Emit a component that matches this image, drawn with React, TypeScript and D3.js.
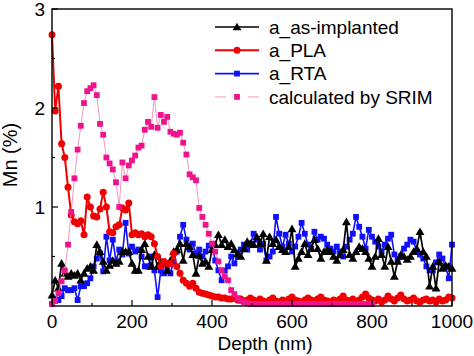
import React from 'react';
import * as d3 from 'd3';

const depths = [
  0, 8, 16, 24, 32, 40, 48, 56, 64, 72,
  80, 88, 96, 104, 112, 120, 128, 136, 144, 152,
  160, 168, 176, 184, 192, 200, 208, 216, 224, 232,
  240, 248, 256, 264, 272, 280, 288, 296, 304, 312,
  320, 328, 336, 344, 352, 360, 368, 376, 384, 392,
  400, 408, 416, 424, 432, 440, 448, 456, 464, 472,
  480, 488, 496, 504, 512, 520, 528, 536, 544, 552,
  560, 568, 576, 584, 592, 600, 608, 616, 624, 632,
  640, 648, 656, 664, 672, 680, 688, 696, 704, 712,
  720, 728, 736, 744, 752, 760, 768, 776, 784, 792,
  800, 808, 816, 824, 832, 840, 848, 856, 864, 872,
  880, 888, 896, 904, 912, 920, 928, 936, 944, 952,
  960, 968, 976, 984, 992, 1000,
];

const asImplanted = [
  0.11, 0.26, 0.18, 0.43, 0.33, 0.30, 0.33, 0.31, 0.33, 0.26,
  0.33, 0.38, 0.40, 0.36, 0.62, 0.55, 0.45, 0.36, 0.41, 0.46,
  0.43, 0.45, 0.55, 0.55, 0.55, 0.43, 0.36, 0.36, 0.57, 0.63,
  0.50, 0.40, 0.52, 0.40, 0.45, 0.43, 0.36, 0.46, 0.55, 0.57,
  0.63, 0.46, 0.63, 0.60, 0.52, 0.33, 0.51, 0.43, 0.45, 0.40,
  0.57, 0.62, 0.72, 0.62, 0.67, 0.60, 0.63, 0.57, 0.53, 0.50,
  0.58, 0.65, 0.63, 0.62, 0.70, 0.63, 0.73, 0.46, 0.70, 0.63,
  0.67, 0.60, 0.57, 0.55, 0.60, 0.78, 0.40, 0.48, 0.55, 0.63,
  0.52, 0.58, 0.67, 0.58, 0.48, 0.55, 0.57, 0.55, 0.50, 0.46,
  0.52, 0.57, 0.85, 0.52, 0.48, 0.55, 0.60, 0.58, 0.55, 0.48,
  0.40, 0.50, 0.68, 0.52, 0.40, 0.60, 0.45, 0.30, 0.45, 0.52,
  0.50, 0.47, 0.50, 0.55, 0.58, 0.75, 0.55, 0.50, 0.20, 0.40,
  0.18, 0.45, 0.38, 0.41, 0.40, 0.38,
];

const pla = [
  2.74, 1.97, 2.22, 1.64, 1.50, 1.20, 0.92, 0.85, 0.83, 0.86,
  0.72, 1.10, 1.00, 0.91, 0.90, 0.98, 1.15, 1.00, 0.75, 0.74,
  0.80, 0.82, 0.99, 0.97, 1.04, 0.72, 0.74, 0.72, 0.73, 0.70,
  0.72, 0.70, 0.63, 0.50, 0.40, 0.45, 0.43, 0.43, 0.53, 0.40,
  0.33, 0.26, 0.23, 0.20, 0.23, 0.18, 0.14, 0.13, 0.12, 0.11,
  0.10, 0.09, 0.09, 0.08, 0.08, 0.07, 0.07, 0.08, 0.06, 0.07,
  0.05, 0.06, 0.08, 0.06, 0.05, 0.07, 0.05, 0.04, 0.06, 0.08,
  0.05, 0.04, 0.06, 0.05, 0.07, 0.09, 0.06, 0.05, 0.04, 0.06,
  0.08, 0.06, 0.05, 0.07, 0.09, 0.06, 0.05, 0.04, 0.06, 0.05,
  0.07, 0.10, 0.06, 0.05, 0.07, 0.04, 0.06, 0.09, 0.12, 0.08,
  0.06, 0.05, 0.07, 0.04, 0.06, 0.10, 0.07, 0.05, 0.08, 0.11,
  0.07, 0.05, 0.06, 0.08, 0.05, 0.04, 0.06, 0.07, 0.05, 0.06,
  0.04, 0.07, 0.05, 0.06, 0.09, 0.08,
];

const rta = [
  0.02, 0.07, 0.06, 0.10, 0.18, 0.16, 0.16, 0.18, 0.06, 0.20,
  0.20, 0.23, 0.28, 0.40, 0.48, 0.53, 0.35, 0.70, 0.46, 0.67,
  0.45, 0.57, 0.52, 0.84, 0.53, 0.60, 0.55, 0.57, 0.50, 0.40,
  0.40, 0.50, 0.36, 0.09, 0.36, 0.33, 0.36, 0.33, 0.45, 0.55,
  0.70, 0.82, 0.67, 0.57, 0.63, 0.53, 0.57, 0.50, 0.55, 0.61,
  0.62, 0.46, 0.36, 0.26, 0.36, 0.40, 0.50, 0.43, 0.50, 0.57,
  0.62, 0.57, 0.63, 0.73, 0.67, 0.57, 0.63, 0.46, 0.50, 0.55,
  0.90, 0.73, 0.60, 0.72, 0.63, 0.55, 0.60, 0.70, 0.84, 0.73,
  0.62, 0.58, 0.75, 0.67, 0.70, 0.68, 0.62, 0.58, 0.55, 0.60,
  0.55, 0.50, 0.60, 0.67, 0.73, 0.90, 0.80, 0.70, 0.58, 0.77,
  0.70, 0.65, 0.60, 0.55, 0.62, 0.68, 0.72, 0.52, 0.46, 0.50,
  0.58, 0.62, 0.67, 0.65, 0.55, 0.52, 0.48, 0.40, 0.36, 0.36,
  0.44, 0.52, 0.48, 0.40, 0.28, 0.62,
];

const srim = [
  0.02, 0.05, 0.13, 0.25, 0.36, 0.62, 0.95, 1.29, 1.58, 1.82,
  2.05, 2.17, 2.20, 2.23, 2.13, 1.84, 1.73, 1.50, 1.44, 1.38,
  1.25, 1.00, 1.45, 1.29, 1.42, 1.47, 1.52, 1.60, 1.62, 1.78,
  1.86, 1.81, 2.11, 1.80, 1.93, 1.86, 1.91, 1.76, 1.74, 1.73,
  1.75, 1.65, 1.53, 1.33, 1.30, 1.27, 0.99, 0.90, 0.82, 0.73,
  0.63, 0.55, 0.45, 0.36, 0.30, 0.26, 0.16, 0.12, 0.08, 0.05,
  0.04, 0.03, 0.02, 0.02, 0.02, 0.02, 0.02, 0.02, 0.02, 0.02,
  0.02, 0.02, 0.02, 0.02, 0.02, 0.02, 0.02, 0.02, 0.02, 0.02,
  0.02, 0.02, 0.02, 0.02, 0.02, 0.02, 0.02, 0.02, 0.02, 0.02,
  0.02, 0.02, 0.02, 0.02, 0.02, 0.02, 0.02, 0.02, 0.02, 0.02,
  0.02,
];

const xTicks = [0, 200, 400, 600, 800, 1000];
const xMinorTicks = [100, 300, 500, 700, 900];
const yTicks = [1, 2, 3];
const yMinorTicks = [0.5, 1.5, 2.5];
const seriesNames = ['a_as-implanted', 'a_PLA', 'a_RTA', 'calculated by SRIM'];

const FONT = "Arial, 'Liberation Sans', sans-serif";

type Pt = { d: number; v: number };
const toPts = (vals: number[]): Pt[] =>
  vals.map((v, i) => ({ d: depths[i], v })).filter((p) => p.d !== undefined);

function Marker({ kind, cx, cy }: { kind: string; cx: number; cy: number }) {
  if (kind === 'tri') {
    const p = d3.symbol().type(d3.symbolTriangle).size(34)();
    return <path d={p as string} transform={`translate(${cx},${cy + 0.8})`} fill="#000" />;
  }
  if (kind === 'circ') return <circle cx={cx} cy={cy} r={3.5} fill="#f00000" />;
  if (kind === 'sqb') return <rect x={cx - 2.9} y={cy - 2.9} width={5.8} height={5.8} fill="#1010ff" />;
  return <rect x={cx - 2.9} y={cy - 2.9} width={5.8} height={5.8} fill="#f0148c" />;
}

export default function App() {
  const L = 52, R = 452, T = 9, B = 306;
  const x = d3.scaleLinear().domain([0, 1000]).range([L, R]);
  const y = d3.scaleLinear().domain([0, 3]).range([B, T]);
  const line = d3.line<Pt>().x((p) => x(p.d)).y((p) => y(p.v));

  const series = [
    { name: seriesNames[2], pts: toPts(rta), color: '#1010ff', w: 1.6, kind: 'sqb' },
    { name: seriesNames[0], pts: toPts(asImplanted), color: '#000', w: 1.7, kind: 'tri' },
    { name: seriesNames[1], pts: toPts(pla), color: '#f00000', w: 2, kind: 'circ' },
    { name: seriesNames[3], pts: toPts(srim), color: '#f38ab8', w: 0.9, kind: 'sqp' },
  ];

  const legend = [
    { name: seriesNames[0], color: '#000', kind: 'tri', w: 1.6 },
    { name: seriesNames[1], color: '#f00000', kind: 'circ', w: 2 },
    { name: seriesNames[2], color: '#1010ff', kind: 'sqb', w: 1.6 },
    { name: seriesNames[3], color: '#f6a8c8', kind: 'sqp', w: 1.2 },
  ];

  return (
    <svg
      width={474}
      height={356}
      style={{ position: 'absolute', left: 0, top: 0, background: '#fff' }}
      fontFamily={FONT}
    >
      <rect x={0} y={0} width={474} height={356} fill="#fff" />
      {series.map((s) => (
        <g key={s.name}>
          <path d={line(s.pts) as string} fill="none" stroke={s.color} strokeWidth={s.w} strokeLinejoin="round" />
          {s.pts.map((p, i) => (
            <Marker key={i} kind={s.kind} cx={x(p.d)} cy={y(p.v)} />
          ))}
        </g>
      ))}

      <rect x={L} y={T} width={R - L} height={B - T} fill="none" stroke="#000" strokeWidth={1.4} />

      {xTicks.map((t) => (
        <g key={'xt' + t}>
          <line x1={x(t)} x2={x(t)} y1={B} y2={B - 6} stroke="#000" strokeWidth={1.2} />
          <text x={x(t)} y={328} fontSize={19} textAnchor="middle" fill="#000">{t}</text>
        </g>
      ))}
      {xMinorTicks.map((t) => (
        <line key={'xm' + t} x1={x(t)} x2={x(t)} y1={B} y2={B - 3} stroke="#000" strokeWidth={1.2} />
      ))}
      {yTicks.map((t) => (
        <g key={'yt' + t}>
          <line x1={L} x2={L + 6} y1={y(t)} y2={y(t)} stroke="#000" strokeWidth={1.2} />
          <text x={45} y={y(t) + 6.8} fontSize={19} textAnchor="end" fill="#000">{t}</text>
        </g>
      ))}
      {yMinorTicks.map((t) => (
        <line key={'ym' + t} x1={L} x2={L + 3} y1={y(t)} y2={y(t)} stroke="#000" strokeWidth={1.2} />
      ))}

      <text x={265} y={350} fontSize={19} textAnchor="middle" fill="#000">Depth (nm)</text>
      <text transform="translate(17,155) rotate(-90)" fontSize={20} textAnchor="middle" fill="#000">Mn (%)</text>

      {legend.map((l, i) => {
        const cy = 27 + i * 23.3;
        return (
          <g key={l.name}>
            {l.kind === 'sqp' ? (
              <>
                <line x1={215} x2={226} y1={cy} y2={cy} stroke={l.color} strokeWidth={l.w} />
                <line x1={248} x2={259} y1={cy} y2={cy} stroke={l.color} strokeWidth={l.w} />
              </>
            ) : (
              <line x1={215} x2={259} y1={cy} y2={cy} stroke={l.color} strokeWidth={l.w} />
            )}
            <Marker kind={l.kind} cx={237} cy={cy} />
            <text x={269} y={cy + 6.8} fontSize={19} fill="#000">{l.name}</text>
          </g>
        );
      })}
    </svg>
  );
}
